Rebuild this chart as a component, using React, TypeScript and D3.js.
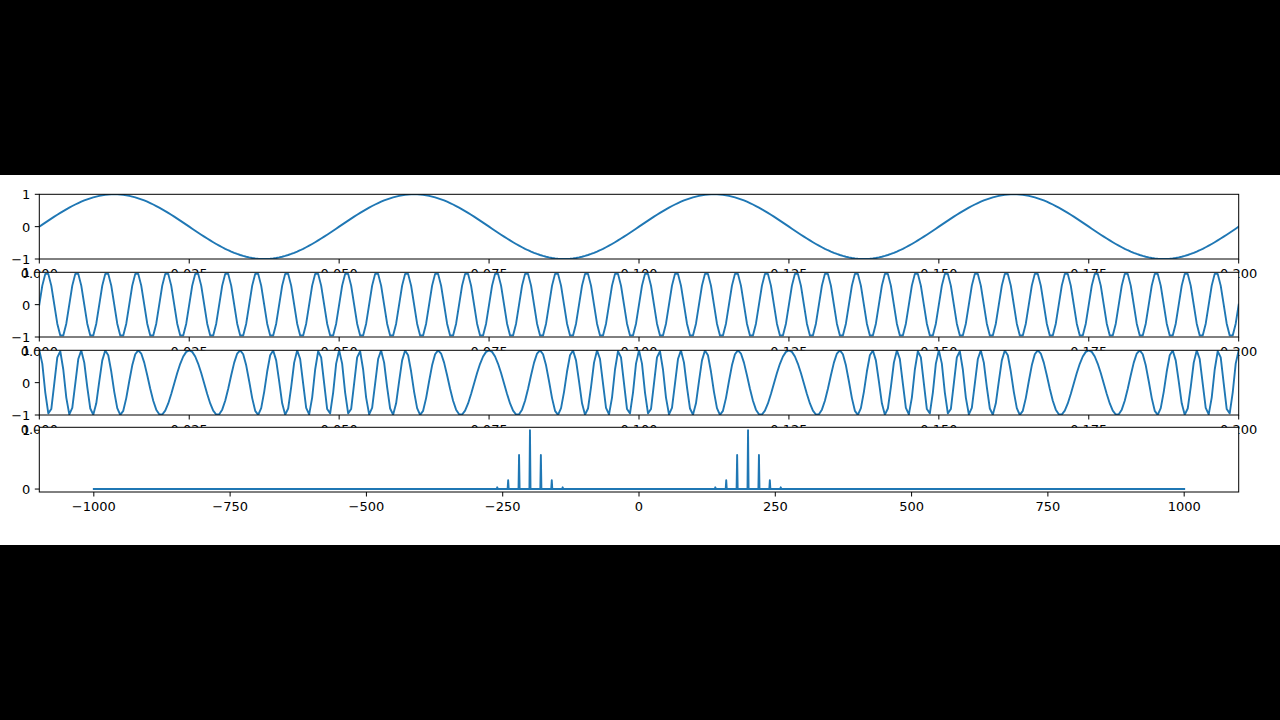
import { useEffect, useRef } from 'react';
import * as d3 from 'd3';

// signal parameters
const sampleRate = 2000;
const sampleCount = 401; // 0 .. 0.2 s inclusive
const toneFreqs = [20, 200]; // panel 1, panel 2 (sine)
const carrierFreq = 200; // panel 3 (cosine, FM)
const modFreq = 20;
const modIndex = 5;

const timeTicks = [0, 0.025, 0.05, 0.075, 0.1, 0.125, 0.15, 0.175, 0.2];
const ampTicks = [-1, 0, 1];
const freqTicks = [-1000, -750, -500, -250, 0, 250, 500, 750, 1000];
const magTicks = [0, 1];

// spectrum: baseline span plus the visible spikes
const freqSpan = [-1000, 1000];
const peakFreqs = [-260, -240, -220, -200, -180, -160, -140, 140, 160, 180, 200, 220, 240, 260];
const peakMags = [0.03, 0.15, 0.58, 1.0, 0.58, 0.15, 0.03, 0.03, 0.15, 0.58, 1.0, 0.58, 0.15, 0.03];

const W = 1280;
const H = 720;
const figTop = 175;
const figH = 370;
const axLeft = 39.3;
const axRight = 1238.7;
const axTops = [194.3, 272.3, 350.3, 427.3];
const axH = 64.7;
const lineColor = '#1f77b4';
const font = '"DejaVu Sans", sans-serif';
const fontSize = 13;
const tickLen = 4.5;
const tickPad = 4.5;

export default function App() {
    const svgRef = useRef<SVGSVGElement>(null);

    useEffect(() => {
        if (!svgRef.current) return;
        const svg = d3.select(svgRef.current);
        svg.selectAll('*').remove();

        svg.append('rect').attr('width', W).attr('height', H).attr('fill', '#000');
        svg.append('rect').attr('y', figTop).attr('width', W).attr('height', figH).attr('fill', '#fff');

        const t = d3.range(sampleCount).map(i => i / sampleRate);
        const series: [number, number][][] = [
            t.map(v => [v, Math.sin(2 * Math.PI * toneFreqs[0] * v)]),
            t.map(v => [v, Math.sin(2 * Math.PI * toneFreqs[1] * v)]),
            t.map(v => [v, Math.cos(2 * Math.PI * carrierFreq * v + modIndex * Math.sin(2 * Math.PI * modFreq * v))]),
        ];

        // spectrum polyline: flat baseline with a narrow spike at each peak
        const spec: [number, number][] = [[freqSpan[0], 0]];
        peakFreqs.forEach((f, i) => {
            spec.push([f - 1, 0], [f, peakMags[i]], [f + 1, 0]);
        });
        spec.push([freqSpan[1], 0]);

        const fmtTime = d3.format('.3f');
        const fmtInt = d3.format('d');

        const panels = [
            { data: series[0], xd: [0, 0.2], yd: [-1, 1], xt: timeTicks, yt: ampTicks, fx: fmtTime },
            { data: series[1], xd: [0, 0.2], yd: [-1, 1], xt: timeTicks, yt: ampTicks, fx: fmtTime },
            { data: series[2], xd: [0, 0.2], yd: [-1, 1], xt: timeTicks, yt: ampTicks, fx: fmtTime },
            { data: spec, xd: [-1100, 1100], yd: [-0.05, 1.05], xt: freqTicks, yt: magTicks, fx: fmtInt },
        ];

        panels.forEach((p, i) => {
            const top = axTops[i];
            const bottom = top + axH;
            const x = d3.scaleLinear().domain(p.xd).range([axLeft, axRight]);
            const y = d3.scaleLinear().domain(p.yd).range([bottom, top]);
            const g = svg.append('g');

            // axes face hides the tick labels of the panel above
            g.append('rect')
                .attr('x', axLeft).attr('y', top)
                .attr('width', axRight - axLeft).attr('height', axH)
                .attr('fill', '#fff');

            const clipId = `clip-${i}`;
            g.append('clipPath').attr('id', clipId)
                .append('rect')
                .attr('x', axLeft).attr('y', top)
                .attr('width', axRight - axLeft).attr('height', axH);

            const line = d3.line<[number, number]>().x(d => x(d[0])).y(d => y(d[1]));
            g.append('path')
                .attr('clip-path', `url(#${clipId})`)
                .attr('d', line(p.data))
                .attr('fill', 'none')
                .attr('stroke', lineColor)
                .attr('stroke-width', 1.9)
                .attr('stroke-linejoin', 'round')
                .attr('stroke-linecap', 'square');

            g.append('rect')
                .attr('x', axLeft).attr('y', top)
                .attr('width', axRight - axLeft).attr('height', axH)
                .attr('fill', 'none').attr('stroke', '#000').attr('stroke-width', 1);

            // x ticks
            p.xt.forEach(v => {
                const xx = x(v);
                g.append('line')
                    .attr('x1', xx).attr('x2', xx)
                    .attr('y1', bottom).attr('y2', bottom + tickLen)
                    .attr('stroke', '#000').attr('stroke-width', 1);
                g.append('text')
                    .attr('x', xx).attr('y', bottom + tickLen + tickPad + 10.3)
                    .attr('text-anchor', 'middle')
                    .attr('font-family', font).attr('font-size', fontSize)
                    .attr('fill', '#000')
                    .text(p.fx(v));
            });

            // y ticks
            p.yt.forEach(v => {
                const yy = y(v);
                g.append('line')
                    .attr('x1', axLeft - tickLen).attr('x2', axLeft)
                    .attr('y1', yy).attr('y2', yy)
                    .attr('stroke', '#000').attr('stroke-width', 1);
                g.append('text')
                    .attr('x', axLeft - tickLen - tickPad).attr('y', yy + 4.9)
                    .attr('text-anchor', 'end')
                    .attr('font-family', font).attr('font-size', fontSize)
                    .attr('fill', '#000')
                    .text(fmtInt(v));
            });
        });
    }, []);

    return (
        <div style={{ position: 'absolute', left: 0, top: 0, width: W, height: H }}>
            <svg ref={svgRef} width={W} height={H} style={{ display: 'block' }} />
        </div>
    );
}
